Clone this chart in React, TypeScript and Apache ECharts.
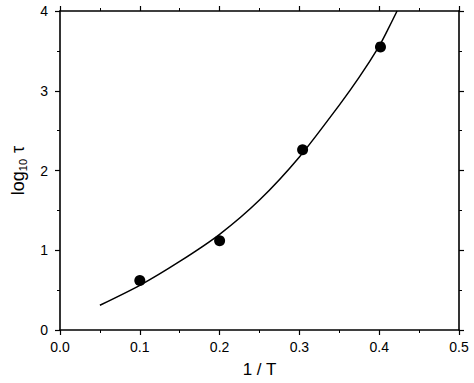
import React, { useEffect, useRef } from "react";
import * as echarts from "echarts";

// Measured data points (1/T, log10 tau)
const pointX = [0.1, 0.2, 0.304, 0.4016];
const pointY = [0.62, 1.12, 2.26, 3.55];

// Fitted curve
const curveX = [0.05, 0.1, 0.15, 0.2, 0.25, 0.3, 0.35, 0.375, 0.4, 0.41, 0.4224];
const curveY = [0.31, 0.56, 0.86, 1.2, 1.63, 2.17, 2.82, 3.17, 3.56, 3.75, 4.0];

const xTicks = { min: 0, max: 0.5, interval: 0.1 };
const yTicks = { min: 0, max: 4, interval: 1 };

const FONT = "Liberation Sans, Arial, Helvetica, sans-serif";

export default function App() {
  const ref = useRef<HTMLDivElement>(null);
  useEffect(() => {
    if (!ref.current) return;
    const chart = echarts.init(ref.current, null, { renderer: "svg" });
    const axisLine = { show: true, onZero: false, lineStyle: { color: "#000", width: 1.6 } };
    const axisTick = { show: true, inside: false, length: 5, lineStyle: { color: "#000", width: 1.2 } };
    const minorTick = { show: true, splitNumber: 2, length: 3, lineStyle: { color: "#000", width: 1 } };
    chart.setOption({
      animation: false,
      backgroundColor: "#fff",
      grid: { left: 51, right: 15, top: 11, bottom: 50, containLabel: false },
      xAxis: [
        {
          type: "value",
          position: "bottom",
          min: xTicks.min,
          max: xTicks.max,
          interval: xTicks.interval,
          axisLine,
          axisTick,
          minorTick,
          splitLine: { show: false },
          axisLabel: {
            color: "#000",
            fontFamily: FONT,
            fontSize: 14,
            margin: 10,
            formatter: (v: number) => v.toFixed(1),
          },
          name: "1 / T",
          nameLocation: "middle",
          nameGap: 31,
          nameTextStyle: { color: "#000", fontFamily: FONT, fontSize: 17 },
        },
        {
          type: "value",
          position: "top",
          min: xTicks.min,
          max: xTicks.max,
          interval: xTicks.interval,
          axisLine,
          axisTick,
          minorTick,
          splitLine: { show: false },
          axisLabel: { show: false },
        },
      ],
      yAxis: [
        {
          type: "value",
          position: "left",
          min: yTicks.min,
          max: yTicks.max,
          interval: yTicks.interval,
          axisLine,
          axisTick,
          minorTick,
          splitLine: { show: false },
          axisLabel: { color: "#000", fontFamily: FONT, fontSize: 14, margin: 12 },
          name: "{a|log}{b|10}{a| τ}",
          nameLocation: "middle",
          nameRotate: 90,
          nameGap: 31,
          nameTextStyle: {
            color: "#000",
            fontFamily: FONT,
            fontSize: 18,
            rich: {
              a: { fontFamily: FONT, fontSize: 18, color: "#000", lineHeight: 22 },
              b: { fontFamily: FONT, fontSize: 11, color: "#000", lineHeight: 22, padding: [9, 1, 0, 0] },
            },
          },
        },
        {
          type: "value",
          position: "right",
          min: yTicks.min,
          max: yTicks.max,
          interval: yTicks.interval,
          axisLine,
          axisTick,
          minorTick,
          splitLine: { show: false },
          axisLabel: { show: false },
        },
      ],
      series: [
        {
          type: "line",
          data: curveX.map((x, i) => [x, curveY[i]]),
          smooth: 0.25,
          showSymbol: false,
          symbol: "none",
          lineStyle: { color: "#000", width: 1.5 },
          z: 2,
        },
        {
          type: "scatter",
          data: pointX.map((x, i) => [x, pointY[i]]),
          symbol: "circle",
          symbolSize: 11,
          itemStyle: { color: "#000", opacity: 1 },
          z: 3,
        },
      ],
    });
    return () => chart.dispose();
  }, []);
  return (
    <div
      ref={ref}
      style={{ position: "fixed", left: 0, top: 0, width: 474, height: 383, background: "#fff" }}
    />
  );
}
